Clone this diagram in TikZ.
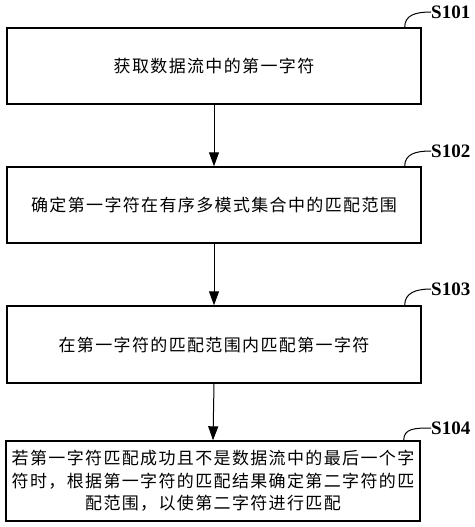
\documentclass[tikz,border=0pt]{standalone}
\usepackage{fontspec}
\setmainfont{Liberation Serif}
\newfontfamily\cjk[LetterSpace=8]{Noto Sans CJK SC}
\usetikzlibrary{arrows.meta,calc}
\begin{document}
\begin{tikzpicture}[x=1pt,y=-1pt,
  stepbox/.style={draw=black,line width=1.4pt,minimum width=414pt,inner sep=0pt,font=\cjk\fontsize{17}{22.5}\selectfont,align=center},
  flow/.style={draw=black,line width=1pt,-{Triangle[length=14pt,width=10pt]}},
  lead/.style={draw=black,line width=1pt},
  steplabel/.style={font=\bfseries\fontsize{19}{21}\selectfont,anchor=west,inner sep=0pt}]
\useasboundingbox (0,0) rectangle (474,527);
\node[stepbox,minimum height=76pt] (b1) at (214,66) {获取数据流中的第一字符};
\node[stepbox,minimum height=76pt] (b2) at (214,205) {确定第一字符在有序多模式集合中的匹配范围};
\node[stepbox,minimum height=77pt] (b3) at (214,344.5) {在第一字符的匹配范围内匹配第一字符};
\node[stepbox,minimum height=80pt] (b4) at (213,481) {若第一字符匹配成功且不是数据流中的最后一个字\\符时，根据第一字符的匹配结果确定第二字符的匹\\配范围，以使第二字符进行匹配};
\draw[flow] (b1.south) -- (b2.north);
\draw[flow] (b2.south) -- (b3.north);
\draw[flow] (b3.south) -- (b4.north);
\foreach \b/\t/\ly in {b1/S101/12, b2/S102/151, b3/S103/289, b4/S104/428}{
  \coordinate (s-\b) at ($(\b.north east)+(-17,0)$);
  \node[steplabel] (l-\b) at (431,\ly) {\t};
  \draw[lead] (s-\b) .. controls ($(s-\b)+(0,-12)$) and ($(l-\b.west)+(-16,0)$) .. (l-\b.west);
}
\end{tikzpicture}
\end{document}
